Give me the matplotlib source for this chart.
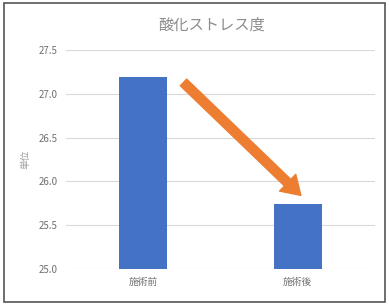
import matplotlib.pyplot as plt
from matplotlib.patches import Rectangle

plt.rcParams['font.family'] = ['Noto Sans CJK JP', 'DejaVu Sans']

# データ
categories = ["施術前", "施術後"]
values = [27.19, 25.74]
yticks = [25.0, 25.5, 26.0, 26.5, 27.0, 27.5]

fig = plt.figure(figsize=(3.89, 3.07), dpi=100)
ax = fig.add_axes([0.17, 0.124, 0.794, 0.713])

x = range(len(categories))
ax.bar(x, values, width=0.31, color="#4472C4", zorder=3)
ax.set_xlim(-0.5, 1.5)
ax.set_ylim(25.0, 27.5)
ax.set_yticks(yticks)
ax.set_yticklabels([f"{t:.1f}" for t in yticks])
ax.set_xticks(list(x))
ax.set_xticklabels(categories)
ax.tick_params(axis="both", length=0, labelsize=7, colors="#6F6F6F", pad=6)
ax.yaxis.grid(True, color="#D9D9D9", linewidth=0.8, zorder=0)
for s in ax.spines.values():
    s.set_visible(False)
ax.set_ylabel("単位", fontsize=7, color="#A0A0A0", labelpad=6)

fig.text(0.545, 0.918, "酸化ストレス度", ha="center", va="center",
         fontsize=11, color="#8C8C8C")

# 矢印
ax.annotate("", xy=(1.02, values[1] + 0.1), xytext=(0.26, values[0] - 0.06),
            arrowprops=dict(arrowstyle="simple,head_length=1.1,head_width=1.4,tail_width=0.55",
                            color="#ED7D31", mutation_scale=12, shrinkA=0, shrinkB=0),
            zorder=4)

fig.patches.append(Rectangle((0.01, 0.015), 0.98, 0.975, transform=fig.transFigure,
                             fill=False, edgecolor="#555555", linewidth=1.2))

fig.savefig("out.png", dpi=100)
